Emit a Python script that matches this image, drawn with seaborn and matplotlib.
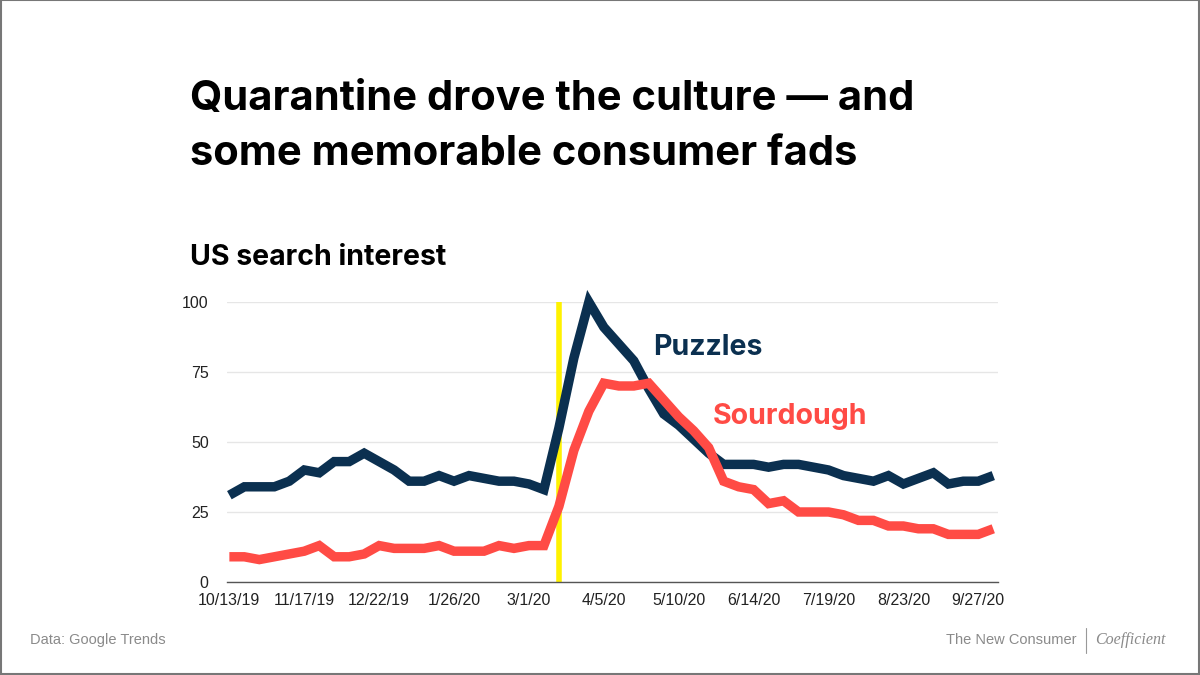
import pandas as pd
import numpy as np
import seaborn as sns
import matplotlib.pyplot as plt
from matplotlib.patches import Rectangle
from matplotlib.lines import Line2D

#####################################################################################################
# Data (Google Trends, weekly US search interest)
#####################################################################################################
START_DATE = "2019-10-13"
PUZZLES = [31, 34, 34, 34, 36, 40, 39, 43, 43, 46,
           43, 40, 36, 36, 38, 36, 38, 37, 36, 36,
           35, 33, 55, 80, 100, 91, 85, 79, 69, 60,
           56, 51, 46, 42, 42, 42, 41, 42, 42, 41,
           40, 38, 37, 36, 38, 35, 37, 39, 35, 36,
           36, 38]
SOURDOUGH = [9, 9, 8, 9, 10, 11, 13, 9, 9, 10,
             13, 12, 12, 12, 13, 11, 11, 11, 13, 12,
             13, 13, 27, 47, 61, 71, 70, 70, 71, 65,
             59, 54, 48, 36, 34, 33, 28, 29, 25, 25,
             25, 24, 22, 22, 20, 20, 19, 19, 17, 17,
             17, 19]
SERIES_NAMES = ["Puzzles", "Sourdough"]
EMERGENCY_DATE = "2020-03-15"
TICK_EVERY = 5

NAVY = "#0b3050"
RED = "#ff4b45"
YELLOW = "#fff200"
HEAD_FONT = ["Inter", "DejaVu Sans"]

#####################################################################################################
# Build long-form frame
#####################################################################################################
dates = pd.date_range(START_DATE, periods=len(PUZZLES), freq="7D")
df = pd.DataFrame({
    "week": np.concatenate([dates, dates]),
    "interest": PUZZLES + SOURDOUGH,
    "term": [SERIES_NAMES[0]] * len(PUZZLES) + [SERIES_NAMES[1]] * len(SOURDOUGH),
})

sns.set_style("white")
plt.rcParams["font.family"] = ["Liberation Sans", "DejaVu Sans"]

fig = plt.figure(figsize=(12, 6.75), dpi=100)
ax = fig.add_axes([0.189, 0.1378, 0.643, 0.4148])

# yellow marker under the lines
ax.axvline(pd.Timestamp(EMERGENCY_DATE), ymin=0, ymax=1, color=YELLOW, lw=4, zorder=1)

sns.lineplot(data=df, x="week", y="interest", hue="term",
             palette={"Puzzles": NAVY, "Sourdough": RED},
             linewidth=6.8, legend=False, ax=ax, zorder=3)
for ln in ax.get_lines()[1:]:
    ln.set_solid_joinstyle("miter")
    ln.set_solid_capstyle("butt")
    ln.set_clip_on(False)

ax.set_ylim(0, 100)
ax.set_xlim(dates[0] - pd.Timedelta(days=1.2), dates[-1] + pd.Timedelta(days=2.4))
ax.set_yticks([0, 25, 50, 75, 100])
ticks = dates[::TICK_EVERY]
ax.set_xticks(ticks)
ax.set_xticklabels([f"{d.month}/{d.day}/{d.strftime('%y')}" for d in ticks])
ax.tick_params(axis="both", length=0, labelsize=11.5, colors="#222222")
ax.tick_params(axis="y", pad=13)
ax.tick_params(axis="x", pad=8)
ax.set_xlabel("")
ax.set_ylabel("")
ax.yaxis.grid(True, color="#e6e6e6", lw=1)
ax.xaxis.grid(False)
for s in ["top", "right", "left"]:
    ax.spines[s].set_visible(False)
ax.spines["bottom"].set_color("#555555")
ax.spines["bottom"].set_linewidth(1)
ax.spines["bottom"].set_zorder(2)

# series labels
fig.text(653 / 1200, 1 - 355 / 675, "Puzzles", color=NAVY, fontsize=20.5,
         fontweight="bold", va="baseline", ha="left", family=HEAD_FONT)
fig.text(713 / 1200, 1 - 424 / 675, "Sourdough", color=RED, fontsize=20.5,
         fontweight="bold", va="baseline", ha="left", family=HEAD_FONT)

# titles
fig.text(190 / 1200, 1 - 110 / 675, "Quarantine drove the culture \u2014 and",
         fontsize=30, fontweight="bold", color="#000000", va="baseline", family=HEAD_FONT)
fig.text(190 / 1200, 1 - 165 / 675, "some memorable consumer fads",
         fontsize=30, fontweight="bold", color="#000000", va="baseline", family=HEAD_FONT)
fig.text(190 / 1200, 1 - 265 / 675, "US search interest",
         fontsize=20.5, fontweight="bold", color="#000000", va="baseline", family=HEAD_FONT)

# footer
fig.text(30 / 1200, 1 - 640 / 675, "Data: Google Trends", fontsize=10.5,
         color="#8a8a8a", va="center")
fig.text(1077 / 1200, 1 - 640 / 675, "The New Consumer", fontsize=10.5,
         color="#8a8a8a", va="center", ha="right")
fig.text(1095 / 1200, 1 - 640 / 675, "Coefficient", fontsize=11.5,
         color="#8a8a8a", va="center", ha="left", family="Liberation Serif",
         style="italic")
fig.add_artist(Line2D([1086 / 1200, 1086 / 1200], [1 - 628 / 675, 1 - 653 / 675],
                      color="#999999", lw=0.8))

# frame around the slide
fig.add_artist(Rectangle((0.0005, 0.0008), 0.999, 0.9985, transform=fig.transFigure,
                         fill=False, edgecolor="#777777", lw=1.5))

fig.savefig("out.png", dpi=100, facecolor="white")
